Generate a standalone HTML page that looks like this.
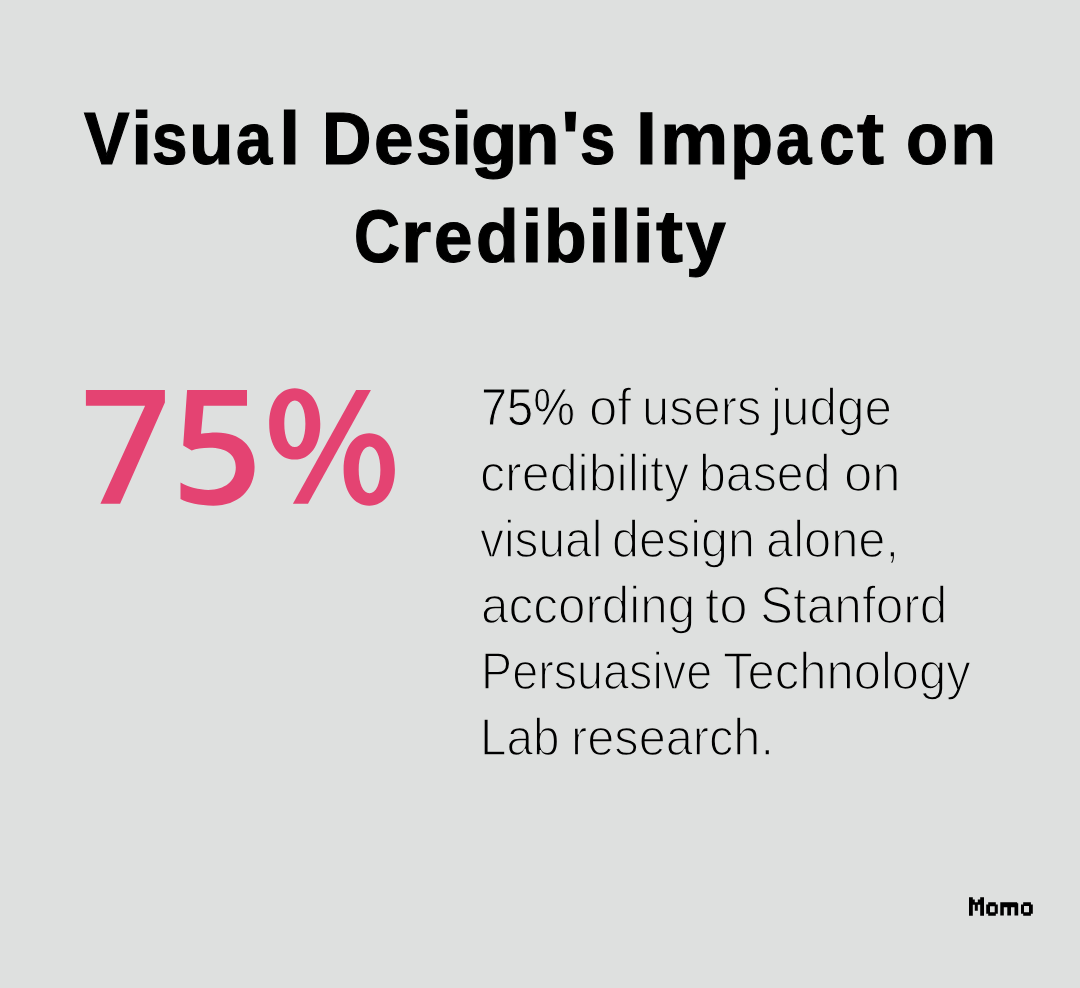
<!DOCTYPE html>
<html>
<head>
<meta charset="utf-8">
<style>
html,body{margin:0;padding:0;}
body{width:1080px;height:988px;background:#dee0df;position:relative;overflow:hidden;font-family:"Liberation Sans",sans-serif;}
.l{position:absolute;white-space:nowrap;left:0;top:0;transform-origin:0 0;}
.t{font-weight:bold;font-size:75px;color:#000;line-height:1;-webkit-text-stroke:1.2px #000;}
.b{font-size:52.5px;color:#000;line-height:1;-webkit-text-stroke:1.6px #dee0df;}
#b1a{-webkit-text-stroke:1.0px #dee0df;}
</style>
</head>
<body>
<div class="l t" id="h0" style="left:83.83px;top:101.00px;transform:scaleX(0.9078);">V</div>
<div class="l t" id="h1" style="left:131.14px;top:101.00px;transform:scaleX(1.0000);">i</div>
<div class="l t" id="h2" style="left:152.14px;top:101.00px;transform:scaleX(0.8500);">s</div>
<div class="l t" id="h3" style="left:188.68px;top:101.00px;transform:scaleX(0.9737);">u</div>
<div class="l t" id="h4" style="left:236.39px;top:101.00px;transform:scaleX(0.8683);">a</div>
<div class="l t" id="h5" style="left:279.16px;top:101.00px;transform:scaleX(1.0000);">l</div>
<div class="l t" id="h6" style="left:321.54px;top:101.00px;transform:scaleX(0.9128);">D</div>
<div class="l t" id="h7" style="left:373.72px;top:101.00px;transform:scaleX(0.9474);">e</div>
<div class="l t" id="h8" style="left:415.58px;top:101.00px;transform:scaleX(0.8500);">s</div>
<div class="l t" id="h9" style="left:451.19px;top:101.00px;transform:scaleX(1.0000);">i</div>
<div class="l t" id="h10" style="left:470.52px;top:101.00px;transform:scaleX(1.0154);">g</div>
<div class="l t" id="h11" style="left:515.00px;top:101.00px;transform:scaleX(0.9711);">n</div>
<div class="l t" id="h12" style="left:561.38px;top:101.00px;transform:scaleX(1.0000);">'</div>
<div class="l t" id="h13" style="left:580.34px;top:101.00px;transform:scaleX(0.8500);">s</div>
<div class="l t" id="h14" style="left:636.10px;top:101.00px;transform:scaleX(1.0000);">I</div>
<div class="l t" id="h15" style="left:659.79px;top:101.00px;transform:scaleX(1.0254);">m</div>
<div class="l t" id="h16" style="left:730.19px;top:101.00px;transform:scaleX(0.9385);">p</div>
<div class="l t" id="h17" style="left:776.01px;top:101.00px;transform:scaleX(0.8500);">a</div>
<div class="l t" id="h18" style="left:818.63px;top:101.00px;transform:scaleX(0.8500);">c</div>
<div class="l t" id="h19" style="left:856.60px;top:101.00px;transform:scaleX(1.0800);">t</div>
<div class="l t" id="h20" style="left:906.12px;top:101.00px;transform:scaleX(0.9190);">o</div>
<div class="l t" id="h21" style="left:949.96px;top:101.00px;transform:scaleX(1.0108);">n</div>
<div class="l t" id="c0" style="left:353.83px;top:199.00px;transform:scaleX(0.8500);">C</div>
<div class="l t" id="c1" style="left:400.64px;top:199.00px;transform:scaleX(1.0360);">r</div>
<div class="l t" id="c2" style="left:433.60px;top:199.00px;transform:scaleX(0.9216);">e</div>
<div class="l t" id="c3" style="left:476.37px;top:199.00px;transform:scaleX(0.9308);">d</div>
<div class="l t" id="c4" style="left:521.51px;top:199.00px;transform:scaleX(1.0000);">i</div>
<div class="l t" id="c5" style="left:544.21px;top:199.00px;transform:scaleX(0.9308);">b</div>
<div class="l t" id="c6" style="left:588.39px;top:199.00px;transform:scaleX(1.0000);">i</div>
<div class="l t" id="c7" style="left:610.50px;top:199.00px;transform:scaleX(1.0000);">l</div>
<div class="l t" id="c8" style="left:632.70px;top:199.00px;transform:scaleX(1.0000);">i</div>
<div class="l t" id="c9" style="left:655.71px;top:199.00px;transform:scaleX(1.0800);">t</div>
<div class="l t" id="c10" style="left:686.04px;top:199.00px;transform:scaleX(0.9524);">y</div>
<div class="l b" id="b1a" style="left:480.73px;top:380.80px;transform:scaleX(0.8940);">75%</div>
<div class="l b" id="b1b" style="left:588.91px;top:380.80px;transform:scaleX(0.9700);">of</div>
<div class="l b" id="b1c" style="left:641.55px;top:380.80px;transform:scaleX(0.9295);">users</div>
<div class="l b" id="b1d" style="left:770.72px;top:380.80px;transform:scaleX(0.9413);">judge</div>
<div class="l b" id="b2a" style="left:480.20px;top:446.80px;transform:scaleX(0.9551);">credibility</div>
<div class="l b" id="b2b" style="left:699.39px;top:446.80px;transform:scaleX(0.9200);">based</div>
<div class="l b" id="b2c" style="left:843.97px;top:446.80px;transform:scaleX(0.9700);">on</div>
<div class="l b" id="b3a" style="left:480.01px;top:512.80px;transform:scaleX(0.9117);">visual</div>
<div class="l b" id="b3b" style="left:612.40px;top:512.80px;transform:scaleX(0.9238);">design</div>
<div class="l b" id="b3c" style="left:766.29px;top:512.80px;transform:scaleX(0.9299);">alone,</div>
<div class="l b" id="b4a" style="left:480.56px;top:578.80px;transform:scaleX(0.9412);">according</div>
<div class="l b" id="b4b" style="left:705.25px;top:578.80px;transform:scaleX(0.9700);">to</div>
<div class="l b" id="b4c" style="left:759.77px;top:578.80px;transform:scaleX(0.9435);">Stanford</div>
<div class="l b" id="b5a" style="left:480.99px;top:644.80px;transform:scaleX(0.8900);">Persuasive</div>
<div class="l b" id="b5b" style="left:722.64px;top:644.80px;transform:scaleX(0.9332);">Technology</div>
<div class="l b" id="b6a" style="left:480.19px;top:710.80px;transform:scaleX(0.9089);">Lab</div>
<div class="l b" id="b6b" style="left:571.34px;top:710.80px;transform:scaleX(0.9273);">research.</div>
<svg width="1080" height="988" viewBox="0 0 1080 988" style="position:absolute;left:0;top:0"><g fill="#e44372" fill-rule="evenodd"><path d="M85.9,389.9 L164.9,389.9 L164.9,402.4 L120.1,503.7 L100.4,503.7 L145.1,405.7 L85.9,405.7 Z"/><path d="M187.1,389.9 L247,389.9 L247,405.7 L203.6,405.7 L201,433.8 C206,433 211,432.4 216.7,432.4 C240,432.4 254.6,446 254.6,467 C254.6,490 238,505.7 213.4,505.7 C199,505.7 188,503 180.5,499.1 L180.5,482.6 C189,487.5 199,489.9 208.2,489.9 C225,489.9 235.8,481 235.8,467.5 C235.8,454.5 226,447.8 209.5,447.8 C202,447.8 196,449 191.7,450.4 L183.2,445.4 Z"/><path d="M356.1,389.9 L370.9,389.9 L308,503.7 L292.9,503.7 Z"/><path d="M294.75,388.2 C310.08,388.2 320.3,402.48 320.3,423.9 C320.3,445.32 310.08,459.6 294.75,459.6 C279.42,459.6 269.2,445.32 269.2,423.9 C269.2,402.48 279.42,388.2 294.75,388.2 Z M294.85,400.4 C301.18,400.4 305.4,409.74 305.4,423.75 C305.4,437.76 301.18,447.1 294.85,447.1 C288.52,447.1 284.3,437.76 284.3,423.75 C284.3,409.74 288.52,400.4 294.85,400.4 Z"/><path d="M369.25,433.3 C384.64,433.3 394.9,447.78 394.9,469.5 C394.9,491.22 384.64,505.7 369.25,505.7 C353.86,505.7 343.6,491.22 343.6,469.5 C343.6,447.78 353.86,433.3 369.25,433.3 Z M369.55,446.4 C376.06,446.4 380.4,455.76 380.4,469.8 C380.4,483.84 376.06,493.2 369.55,493.2 C363.04,493.2 358.7,483.84 358.7,469.8 C358.7,455.76 363.04,446.4 369.55,446.4 Z"/></g></svg>
<svg width="1080" height="988" viewBox="0 0 1080 988" style="position:absolute;left:0;top:0"><g fill="#000" fill-rule="evenodd">
<path d="M969,897.2h3.8v18.6h-3.8Z M972.8,899.5h2v5.2h-2Z M974.8,902.3h3v8.4h-3Z M977.8,899.5h2.4v5.2h-2.4Z M980.2,897.2h3.8v18.6h-3.8Z"/>
<path d="M988.2,902.3h7.6v2.2h2v9.2h-2v2.1h-7.6v-2.1h-2v-9.2h2Z M990,906.2v6.1h4.7v-6.1Z"/>
<path d="M1000.3,902.3h16.9v1h1v12.3h-3.7v-8.4h-3.5v8.4h-3.7v-8.4h-3.5v8.4h-3.5Z"/>
<path d="M1023.2,902.3h7.7v2.3h1.9v9.1h-1.9v2.1h-7.7v-2.1h-2.2v-9.1h2.2Z M1024,906.1v6.2h5v-6.2Z"/>
</g></svg>
</body>
</html>
